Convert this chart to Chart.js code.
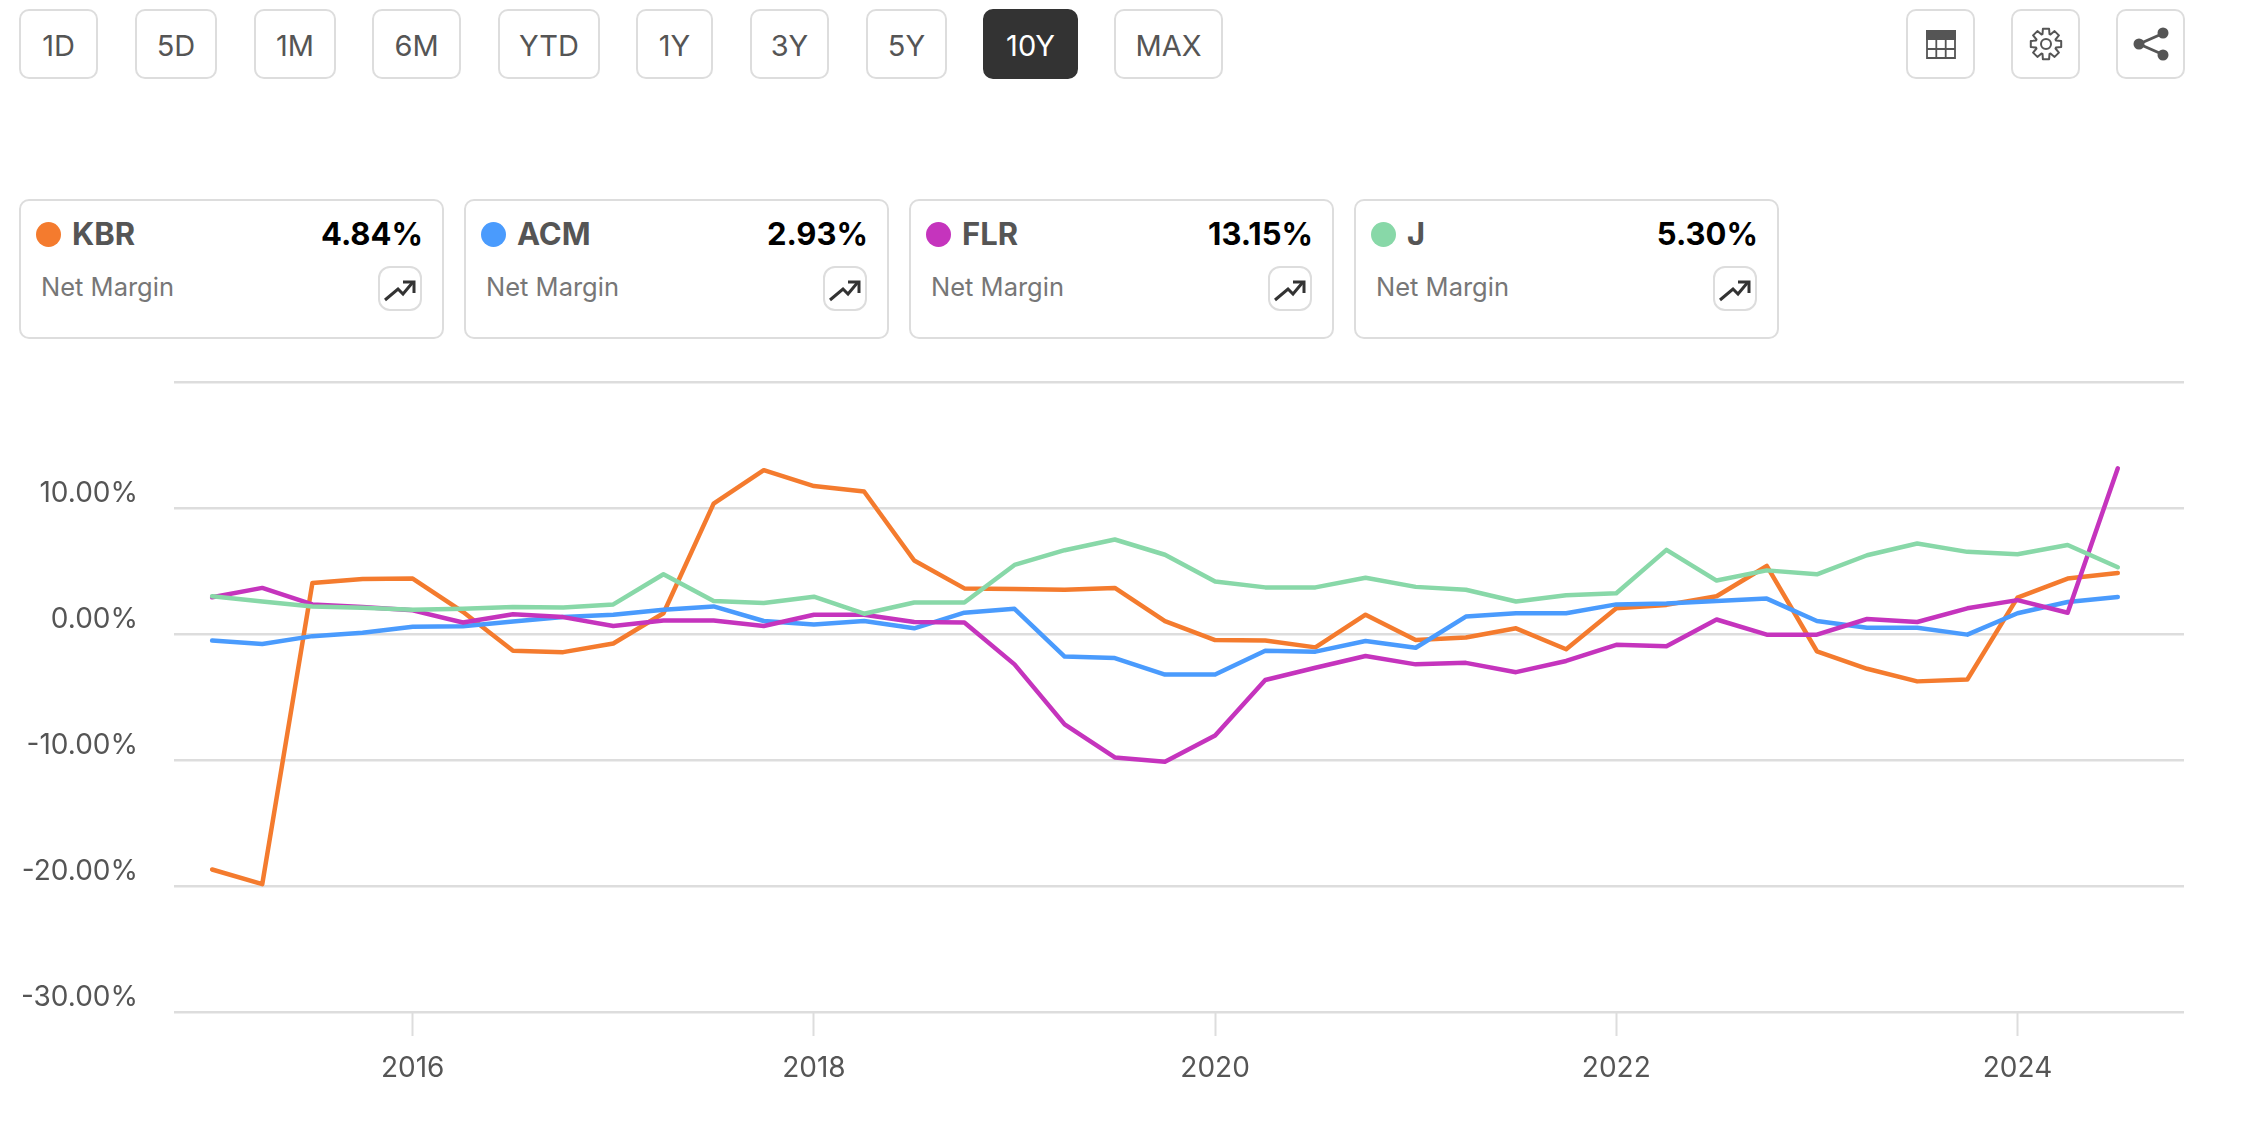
<!DOCTYPE html>
<html lang="en">

<head>
    <meta charset="UTF-8">
    <title>Net Margin</title>
    <script src="https://cdn.jsdelivr.net/npm/chart.js"></script>
    <style>
        html, body { margin: 0; padding: 0; background: #fff; font-family: Inter, "Noto Sans", sans-serif; }
        body { width: 2244px; height: 1124px; position: relative; overflow: hidden; }
        .btn { position: absolute; top: 9px; height: 70px; box-sizing: border-box; border: 2px solid #ddd; border-radius: 10px; padding-top: 2px;
            color: #555; font-size: 29px; display: flex; align-items: center; justify-content: center; background: #fff; }
        .btn.active { background: #333; border-color: #333; color: #fff; }
        .card { position: absolute; top: 199px; width: 425px; height: 140px; box-sizing: border-box; border: 2px solid #ddd; border-radius: 10px; }
        .dot { position: absolute; left: 15px; top: 21px; width: 25px; height: 25px; border-radius: 50%; }
        .name { position: absolute; left: 51px; top: 14px; font-size: 31px; font-weight: 700; color: #555; }
        .val { position: absolute; right: 19px; top: 14px; font-size: 31px; font-weight: 700; color: #000; }
        .sub { position: absolute; left: 20px; top: 70px; font-size: 25.5px; color: #777; }
        .mini { position: absolute; right: 20px; top: 65px; width: 44px; height: 45px; box-sizing: border-box; border: 2px solid #ddd; border-radius: 12px;
            display: flex; align-items: center; justify-content: center; padding-top: 5px; }
        #wrap { position: absolute; left: 0; top: 360px; width: 2244px; height: 764px; }
    </style>
</head>

<body>
    <div id="buttons"></div>
    <div id="cards"></div>
    <div id="wrap"><canvas id="margins"></canvas></div>
    <script>
        const quarters = [2015, 2015.25, 2015.5, 2015.75, 2016, 2016.25, 2016.5, 2016.75, 2017, 2017.25, 2017.5, 2017.75, 2018, 2018.25, 2018.5, 2018.75, 2019, 2019.25, 2019.5, 2019.75, 2020, 2020.25, 2020.5, 2020.75, 2021, 2021.25, 2021.5, 2021.75, 2022, 2022.25, 2022.5, 2022.75, 2023, 2023.25, 2023.5, 2023.75, 2024, 2024.25, 2024.5]
        const kbr = [-18.69, -19.85, 4.05, 4.36, 4.4, 1.76, -1.33, -1.44, -0.75, 1.65, 10.35, 13.0, 11.74, 11.31, 5.83, 3.62, 3.58, 3.51, 3.66, 1.03, -0.48, -0.52, -1.06, 1.53, -0.48, -0.28, 0.45, -1.21, 2.04, 2.31, 3.0, 5.4, -1.37, -2.76, -3.76, -3.61, 2.89, 4.4, 4.84]
        const acm = [-0.52, -0.79, -0.17, 0.1, 0.57, 0.61, 0.99, 1.34, 1.53, 1.92, 2.19, 1.03, 0.76, 1.03, 0.45, 1.69, 2.0, -1.79, -1.91, -3.22, -3.22, -1.33, -1.4, -0.55, -1.09, 1.38, 1.65, 1.65, 2.35, 2.42, 2.62, 2.81, 1.03, 0.49, 0.49, -0.05, 1.65, 2.54, 2.93]
        const flr = [2.91, 3.66, 2.35, 2.15, 1.88, 0.91, 1.57, 1.34, 0.64, 1.07, 1.07, 0.64, 1.53, 1.53, 0.95, 0.91, -2.41, -7.17, -9.8, -10.14, -8.06, -3.65, -2.68, -1.75, -2.41, -2.29, -3.03, -2.14, -0.86, -0.98, 1.15, -0.05, -0.05, 1.19, 0.95, 2.04, 2.69, 1.69, 13.15]
        const jec = [3.0, 2.58, 2.19, 2.08, 1.92, 2.0, 2.15, 2.11, 2.35, 4.74, 2.62, 2.46, 2.96, 1.61, 2.5, 2.5, 5.48, 6.65, 7.5, 6.29, 4.16, 3.7, 3.7, 4.47, 3.74, 3.51, 2.58, 3.08, 3.24, 6.68, 4.24, 5.05, 4.74, 6.25, 7.18, 6.52, 6.33, 7.06, 5.3]
        const yearTicks = [2016, 2018, 2020, 2022, 2024]
        const valueTicks = [20, 10, 0, -10, -20, -30]

        const tickers = ['KBR', 'ACM', 'FLR', 'J']
        const latest = ['4.84%', '2.93%', '13.15%', '5.30%']
        const colors = ['#f47b2e', '#4a9bfd', '#c534bd', '#88d8a8']

        // range buttons along the top: [label, left, width]
        const ranges = [['1D', 19, 79], ['5D', 135, 82], ['1M', 254, 82], ['6M', 372, 89], ['YTD', 498, 102], ['1Y', 636, 77], ['3Y', 750, 79], ['5Y', 866, 81], ['10Y', 983, 95], ['MAX', 1114, 109]]

        // cog outline for the settings button
        let cog = ''
        for (let i = 0; i < 8; i++) {
            const a = i * Math.PI / 4
            const pt = (r, d) => `${(17 + r * Math.cos(a + d)).toFixed(1)} ${(17 + r * Math.sin(a + d)).toFixed(1)}`
            cog += `${i ? 'L' : 'M'}${pt(10.5, -0.34)}L${pt(15.5, -0.2)}L${pt(15.5, 0.2)}L${pt(10.5, 0.34)}`
        }
        const icons = [
            '<svg width="30" height="29" viewBox="0 0 30 29"><rect x="0" y="0" width="30" height="10" fill="#555"/><path d="M1 10V28H29V10M1 19H29M10.3 10V28M19.7 10V28" fill="none" stroke="#555" stroke-width="1.8"/></svg>',
            `<svg width="34" height="34" viewBox="0 0 34 34" fill="none" stroke="#555" stroke-width="2"><path d="${cog}Z" stroke-linejoin="round"/><circle cx="17" cy="17" r="5"/></svg>`,
            '<svg width="36" height="34" viewBox="0 0 36 34"><path d="M6 17L31 6M6 17L31 28" stroke="#555" stroke-width="3"/><circle cx="6" cy="17" r="5.5" fill="#555"/><circle cx="30" cy="6" r="5.5" fill="#555"/><circle cx="30" cy="28" r="5.5" fill="#555"/></svg>'
        ]
        const iconLefts = [1906, 2011, 2116]
        const cardLefts = [19, 464, 909, 1354]
        const arrow = '<svg width="32" height="24" viewBox="0 0 32 24" fill="none" stroke="#333" stroke-width="3"><path d="M1 21L14 10L19 15L29 3"/><path d="M19 3H30V14"/></svg>'

        let buttonsHtml = ''
        ranges.forEach(r => {
            buttonsHtml += `<div class="btn ${r[0] == '10Y' ? 'active' : ''}" style="left:${r[1]}px;width:${r[2]}px">${r[0]}</div>\n`
        })
        icons.forEach((ic, i) => {
            buttonsHtml += `<div class="btn" style="left:${iconLefts[i]}px;width:69px;padding-top:0">${ic}</div>\n`
        })
        document.getElementById('buttons').innerHTML = buttonsHtml

        let cardsHtml = ''
        tickers.forEach((t, i) => {
            cardsHtml += `<div class="card" style="left:${cardLefts[i]}px"><span class="dot" style="background:${colors[i]}"></span>
                <span class="name">${t}</span><span class="val">${latest[i]}</span><span class="sub">Net Margin</span><span class="mini">${arrow}</span></div>\n`
        })
        document.getElementById('cards').innerHTML = cardsHtml

        // first dataset is drawn on top
        const series = [jec, flr, acm, kbr]
        const seriesIdx = [3, 2, 1, 0]
        const data = {
            datasets: series.map((vals, i) => ({
                label: tickers[seriesIdx[i]],
                data: vals.map((v, j) => ({ x: quarters[j], y: v })),
                borderColor: colors[seriesIdx[i]],
                borderWidth: 4.5,
                pointRadius: 0,
                tension: 0,
                borderCapStyle: 'round',
                borderJoinStyle: 'round'
            }))
        }
        const config = {
            type: 'line',
            data: data,
            options: {
                responsive: false,
                animation: false,
                layout: { padding: { top: 22, right: 60, bottom: 40, left: 0 } },
                plugins: { legend: { display: false }, tooltip: { enabled: false } },
                scales: {
                    x: {
                        type: 'linear',
                        min: 2014.81,
                        max: 2024.83,
                        afterBuildTicks: axis => { axis.ticks = yearTicks.map(v => ({ value: v })) },
                        afterFit: axis => { axis.height = 72; axis.paddingLeft = 0; axis.paddingRight = 0 },
                        grid: { drawOnChartArea: false, drawTicks: true, tickLength: 24, tickColor: '#ddd', tickWidth: 2 },
                        border: { display: false },
                        ticks: { color: '#555', font: { family: 'Inter', size: 28 }, padding: 16, maxRotation: 0, autoSkip: false, callback: v => String(v) }
                    },
                    y: {
                        min: -30,
                        max: 20,
                        afterBuildTicks: axis => { axis.ticks = valueTicks.map(v => ({ value: v })) },
                        afterFit: axis => { axis.width = 174; axis.paddingTop = 0; axis.paddingBottom = 0 },
                        grid: { color: '#ddd', lineWidth: 2.5, drawTicks: false },
                        border: { display: false },
                        ticks: {
                            color: '#555', font: { family: 'Inter', size: 28, lineHeight: 1.02 }, padding: 36, autoSkip: false,
                            // second empty line lifts the label above its gridline
                            callback: v => v == 20 ? '' : [v.toFixed(2) + '%', '']
                        }
                    }
                }
            }
        }
        const cv = document.getElementById('margins')
        cv.width = 2244
        cv.height = 764
        new Chart(cv, config)
    </script>
</body>

</html>
